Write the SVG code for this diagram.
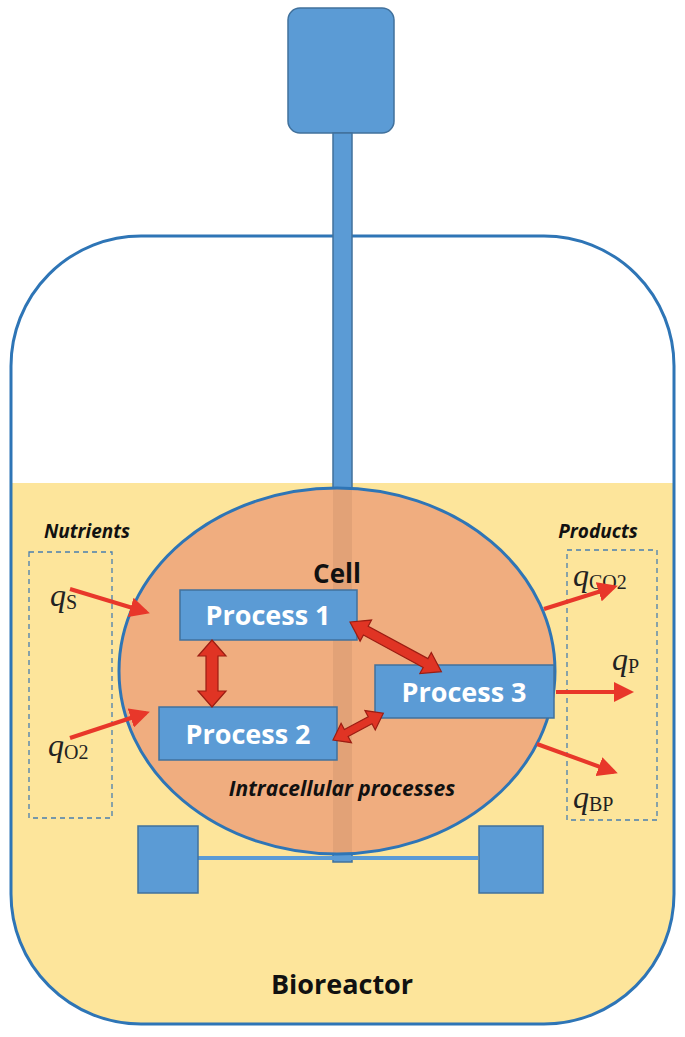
<svg xmlns="http://www.w3.org/2000/svg" width="685" height="1037" viewBox="0 0 685 1037">
<defs>
<style>
.blue{fill:#5b9bd5;stroke:#41719c;stroke-width:1.5}
.pt{font-family:"Open Sans",sans-serif;font-weight:bold;font-size:27px;fill:#fff;text-anchor:middle}
.lb{font-family:"Open Sans",sans-serif;font-weight:bold;fill:#111;text-anchor:middle}
.q{font-family:"Liberation Serif",serif;font-size:32px;fill:#222}
.ar{stroke:#e8372a;stroke-width:4;fill:none;marker-end:url(#ah)}
.dbl{fill:#e03424;stroke:#9b1d12;stroke-width:1.2}
.dash{fill:none;stroke:#4a7fb0;stroke-width:1.3;stroke-dasharray:5 4}
</style>
<marker id="ah" markerWidth="5" markerHeight="5" refX="4" refY="2.5" orient="auto" markerUnits="strokeWidth"><path d="M0,0L5,2.5L0,5z" fill="#e8372a"/></marker>
<clipPath id="vc"><rect x="11" y="236" width="663" height="788" rx="130"/></clipPath>
<clipPath id="ec"><ellipse cx="337" cy="671" rx="218" ry="183"/></clipPath>
</defs>
<rect width="685" height="1037" fill="#fff"/>
<g id="vessel">
<rect x="11" y="483" width="663" height="560" fill="#fde59b" clip-path="url(#vc)"/>
<rect x="11" y="236" width="663" height="788" rx="130" fill="none" stroke="#2e75b6" stroke-width="3"/>
</g>
<g id="stirrer">
<rect class="blue" x="288" y="8" width="106" height="125" rx="12"/>
<rect class="blue" x="333" y="133" width="19" height="729"/>
<rect x="198" y="856" width="280" height="4" fill="#5b9bd5"/>
<rect class="blue" x="138" y="826" width="60" height="67"/>
<rect class="blue" x="479" y="826" width="64" height="67"/>
</g>
<g id="cell">
<ellipse cx="337" cy="671" rx="218" ry="183" fill="#f0ad7f"/>
<rect x="333" y="480" width="19" height="380" fill="#c9906a" opacity="0.35" clip-path="url(#ec)"/>
<ellipse cx="337" cy="671" rx="218" ry="183" fill="none" stroke="#2e75b6" stroke-width="3"/>
<text class="lb" x="337" y="583" font-size="26">Cell</text>
<text class="lb" x="342" y="796" font-size="21" font-style="italic">Intracellular processes</text>
</g>
<g id="p1"><rect class="blue" x="180" y="590" width="177" height="50"/><text class="pt" x="268" y="625">Process 1</text></g>
<g id="p2"><rect class="blue" x="159" y="707" width="178" height="53"/><text class="pt" x="248" y="744">Process 2</text></g>
<g id="p3"><rect class="blue" x="375" y="665" width="179" height="53"/><text class="pt" x="464" y="702">Process 3</text></g>
<g id="nutrients">
<text class="lb" x="87" y="538" font-size="19" font-style="italic">Nutrients</text>
<rect class="dash" x="29" y="552" width="83" height="266"/>
<text class="q" x="50" y="606"><tspan font-style="italic">q</tspan><tspan font-size="20" dy="3">S</tspan></text>
<text class="q" x="48" y="756"><tspan font-style="italic">q</tspan><tspan font-size="20" dy="3">O2</tspan></text>
</g>
<g id="products">
<text class="lb" x="598" y="538" font-size="19" font-style="italic">Products</text>
<rect class="dash" x="567" y="550" width="90" height="270"/>
<text class="q" x="573" y="586"><tspan font-style="italic">q</tspan><tspan font-size="20" dy="3">CO2</tspan></text>
<text class="q" x="612" y="670"><tspan font-style="italic">q</tspan><tspan font-size="20" dy="3">P</tspan></text>
<text class="q" x="573" y="808"><tspan font-style="italic">q</tspan><tspan font-size="20" dy="3">BP</tspan></text>
</g>
<g id="connectors">
<line class="ar" x1="70" y1="589" x2="146" y2="612"/>
<line class="ar" x1="70" y1="738" x2="146" y2="713"/>
<line class="ar" x1="544" y1="609" x2="614" y2="587"/>
<line class="ar" x1="556" y1="692" x2="630" y2="692"/>
<line class="ar" x1="537" y1="744" x2="614" y2="772"/>
<path class="dbl" d="M212,640 L226,656 L218,656 L218,691 L226,691 L212,707 L198,691 L206,691 L206,656 L198,656 Z"/>
<path class="dbl" transform="translate(350,622) rotate(28.5)" d="M0,0 L18,-12 L18,-5 L86,-5 L86,-12 L104,0 L86,12 L86,5 L18,5 L18,12 Z"/>
<path class="dbl" transform="translate(333,740) rotate(-28)" d="M0,0 L15,-11 L15,-4 L42,-4 L42,-11 L57,0 L42,11 L42,4 L15,4 L15,11 Z"/>
</g>
<text class="lb" x="342" y="994" font-size="27">Bioreactor</text>
</svg>
